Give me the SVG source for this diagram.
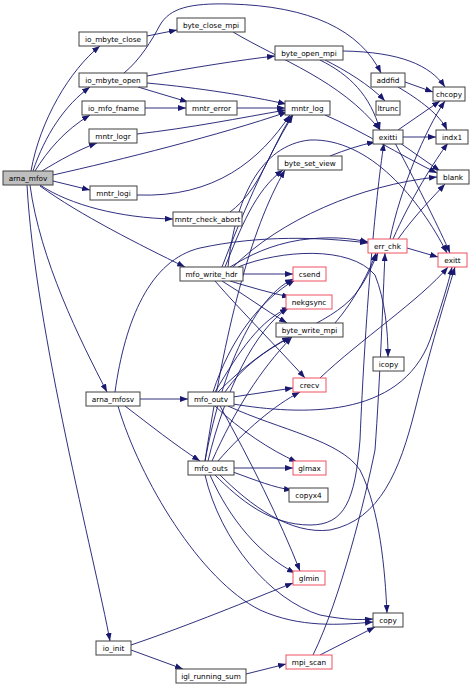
<svg xmlns="http://www.w3.org/2000/svg" width="474" height="686" viewBox="0 0 474 686">
<style>
.n rect{fill:#fff;stroke:#404040;stroke-width:1}
.n.r rect{stroke:#f05060}
.n.g rect{fill:#bfbfbf}
.n text{font-family:"DejaVu Sans",sans-serif;font-size:7.3px;fill:#000;text-anchor:middle}
#edges path{fill:none;stroke:#191970;stroke-width:0.9;marker-end:url(#a)}
</style>
<defs>
<marker id="a" viewBox="0 0 10 10" refX="10" refY="5" markerWidth="8" markerHeight="6" orient="auto" markerUnits="userSpaceOnUse" preserveAspectRatio="none">
<path d="M0,0 L10,5 L0,10 z" fill="#191970" stroke="none"/>
</marker>
</defs>
<rect width="474" height="686" fill="#fff"/>
<g id="edges">
<path d="M31,171 C40,120 70,70 100,46"/>
<path d="M33,171 C45,135 65,105 90,87"/>
<path d="M35,171 C48,150 65,130 90,115"/>
<path d="M42,171 C60,160 78,150 97,143"/>
<path d="M53,175 C120,160 220,135 287,112"/>
<path d="M53,181 L90,190"/>
<path d="M40,185 C70,205 120,218 173,219"/>
<path d="M40,186 C80,215 140,245 185,267"/>
<path d="M30,185 C40,260 80,340 107,392"/>
<path d="M27,185 C35,330 95,560 110,641"/>
<path d="M147,36 L177,30"/>
<path d="M124,73 C140,60 152,40 160,25 C170,8 190,3 230,4 C310,6 360,30 381,73"/>
<path d="M147,76 C190,68 240,60 275,56"/>
<path d="M147,83 C200,88 250,96 286,104"/>
<path d="M138,87 L188,102"/>
<path d="M145,108 L186,108"/>
<path d="M237,108 L285,108"/>
<path d="M137,134 C190,128 240,118 286,110"/>
<path d="M137,195 C215,198 260,160 290,115"/>
<path d="M230,212 C260,190 270,150 292,115"/>
<path d="M233,32 C280,60 340,80 380,130"/>
<path d="M343,51 C400,52 430,65 445,87"/>
<path d="M325,60 C345,70 370,85 385,101"/>
<path d="M320,60 C350,75 370,95 380,130"/>
<path d="M405,82 L433,92"/>
<path d="M398,87 C420,100 440,115 447,130"/>
<path d="M398,130 L440,101"/>
<path d="M403,137 L436,137"/>
<path d="M400,143 L440,171"/>
<path d="M395,143 C420,190 440,230 450,253"/>
<path d="M325,115 C360,130 400,155 437,173"/>
<path d="M330,156 C345,150 360,145 375,142"/>
<path d="M390,239 C400,190 425,130 445,101"/>
<path d="M393,239 C410,200 435,160 448,143"/>
<path d="M398,239 C415,215 435,195 445,184"/>
<path d="M407,248 L438,257"/>
<path d="M243,274 L293,274"/>
<path d="M230,281 C250,287 270,293 290,297"/>
<path d="M222,281 C245,295 265,310 287,323"/>
<path d="M215,281 C240,310 280,350 305,378"/>
<path d="M230,267 C250,255 270,245 300,240 C330,236 350,238 368,242"/>
<path d="M238,267 C280,250 350,245 375,275 C385,300 388,330 388,357"/>
<path d="M233,267 C280,220 360,185 437,177"/>
<path d="M228,267 C235,200 260,145 310,140 C370,138 420,200 447,253"/>
<path d="M225,267 C240,230 255,190 283,170"/>
<path d="M222,267 C240,220 265,160 293,115"/>
<path d="M335,323 C355,300 370,270 376,253"/>
<path d="M320,378 C360,340 420,300 448,267"/>
<path d="M115,392 C125,320 150,260 200,248 C260,235 320,237 368,243"/>
<path d="M140,399 L188,399"/>
<path d="M125,406 C150,425 175,445 200,461"/>
<path d="M118,406 C140,480 200,580 260,610 C300,628 340,625 373,622"/>
<path d="M213,392 C230,340 260,300 295,280"/>
<path d="M215,392 C240,350 260,320 290,307"/>
<path d="M218,392 C240,370 265,350 290,337"/>
<path d="M233,397 L293,388"/>
<path d="M225,392 C260,340 320,330 350,300 C365,285 372,265 378,253"/>
<path d="M233,404 C300,415 400,420 430,340 C440,310 448,285 452,267"/>
<path d="M215,406 C240,430 270,450 297,462"/>
<path d="M220,406 C250,460 280,520 300,571"/>
<path d="M228,406 C280,430 340,440 360,470 C380,510 385,570 387,613"/>
<path d="M205,461 C220,380 250,300 293,279"/>
<path d="M208,461 C225,390 255,330 288,308"/>
<path d="M212,461 C235,410 260,370 292,337"/>
<path d="M218,461 C245,430 275,405 300,392"/>
<path d="M233,468 L293,468"/>
<path d="M233,472 C255,480 275,488 292,490"/>
<path d="M210,475 C230,520 260,555 295,573"/>
<path d="M205,475 C220,540 270,600 320,615 C345,620 360,620 373,619"/>
<path d="M215,475 C240,500 270,525 310,525 C345,525 355,500 360,440 C365,320 375,200 384,143"/>
<path d="M220,475 C250,505 290,535 330,530 C380,520 400,470 415,410 C430,350 445,300 455,267"/>
<path d="M205,461 C225,330 250,230 285,170"/>
<path d="M313,655 C340,600 365,500 375,450 C380,380 383,300 385,253"/>
<path d="M320,655 L375,627"/>
<path d="M246,674 L286,664"/>
<path d="M131,650 L183,669"/>
<path d="M131,645 C190,625 250,600 293,583"/>
</g>
<g id="arna_mfov" class="n g"><rect x="3" y="171" width="50" height="14"/><text x="28" y="180.6">arna_mfov</text></g>
<g id="io_mbyte_close" class="n"><rect x="79" y="32" width="68" height="14"/><text x="113" y="41.6">io_mbyte_close</text></g>
<g id="byte_close_mpi" class="n"><rect x="177" y="18" width="68" height="14"/><text x="211" y="27.6">byte_close_mpi</text></g>
<g id="io_mbyte_open" class="n"><rect x="79" y="73" width="68" height="14"/><text x="113" y="82.6">io_mbyte_open</text></g>
<g id="io_mfo_fname" class="n"><rect x="82" y="101" width="63" height="14"/><text x="113.5" y="110.6">io_mfo_fname</text></g>
<g id="mntr_error" class="n"><rect x="186" y="101" width="51" height="14"/><text x="211.5" y="110.6">mntr_error</text></g>
<g id="mntr_logr" class="n"><rect x="89" y="129" width="48" height="14"/><text x="113" y="138.6">mntr_logr</text></g>
<g id="mntr_logi" class="n"><rect x="90" y="186" width="47" height="14"/><text x="113.5" y="195.6">mntr_logi</text></g>
<g id="mntr_check_abort" class="n"><rect x="173" y="212" width="69" height="14"/><text x="207.5" y="221.6">mntr_check_abort</text></g>
<g id="byte_open_mpi" class="n"><rect x="275" y="46" width="68" height="14"/><text x="309" y="55.6">byte_open_mpi</text></g>
<g id="mntr_log" class="n"><rect x="285" y="101" width="45" height="14"/><text x="307.5" y="110.6">mntr_log</text></g>
<g id="addfid" class="n"><rect x="371" y="73" width="34" height="14"/><text x="388" y="82.6">addfid</text></g>
<g id="chcopy" class="n"><rect x="433" y="87" width="32" height="14"/><text x="449" y="96.6">chcopy</text></g>
<g id="ltrunc" class="n"><rect x="376" y="101" width="24" height="14"/><text x="388" y="110.6">ltrunc</text></g>
<g id="exitti" class="n"><rect x="373" y="130" width="30" height="14"/><text x="388" y="139.6">exitti</text></g>
<g id="indx1" class="n"><rect x="436" y="130" width="32" height="14"/><text x="452" y="139.6">indx1</text></g>
<g id="byte_set_view" class="n"><rect x="278" y="156" width="64" height="14"/><text x="310" y="165.6">byte_set_view</text></g>
<g id="blank" class="n"><rect x="437" y="170" width="32" height="14"/><text x="453" y="179.6">blank</text></g>
<g id="err_chk" class="n r"><rect x="368" y="239" width="39" height="14"/><text x="387.5" y="248.6">err_chk</text></g>
<g id="exitt" class="n r"><rect x="438" y="253" width="29" height="14"/><text x="452.5" y="262.6">exitt</text></g>
<g id="mfo_write_hdr" class="n"><rect x="180" y="267" width="63" height="14"/><text x="211.5" y="276.6">mfo_write_hdr</text></g>
<g id="csend" class="n r"><rect x="293" y="267" width="33" height="14"/><text x="309.5" y="276.6">csend</text></g>
<g id="nekgsync" class="n r"><rect x="286" y="295" width="46" height="14"/><text x="309" y="304.6">nekgsync</text></g>
<g id="byte_write_mpi" class="n"><rect x="276" y="323" width="67" height="14"/><text x="309.5" y="332.6">byte_write_mpi</text></g>
<g id="icopy" class="n"><rect x="373" y="357" width="31" height="14"/><text x="388.5" y="366.6">icopy</text></g>
<g id="crecv" class="n r"><rect x="293" y="378" width="33" height="14"/><text x="309.5" y="387.6">crecv</text></g>
<g id="arna_mfosv" class="n"><rect x="86" y="392" width="54" height="14"/><text x="113" y="401.6">arna_mfosv</text></g>
<g id="mfo_outv" class="n"><rect x="188" y="392" width="46" height="14"/><text x="211" y="401.6">mfo_outv</text></g>
<g id="mfo_outs" class="n"><rect x="188" y="461" width="46" height="14"/><text x="211" y="470.6">mfo_outs</text></g>
<g id="glmax" class="n r"><rect x="293" y="461" width="33" height="14"/><text x="309.5" y="470.6">glmax</text></g>
<g id="copyx4" class="n"><rect x="289" y="488" width="39" height="14"/><text x="308.5" y="497.6">copyx4</text></g>
<g id="glmin" class="n r"><rect x="293" y="571" width="32" height="14"/><text x="309" y="580.6">glmin</text></g>
<g id="copy" class="n"><rect x="373" y="613" width="30" height="14"/><text x="388" y="622.6">copy</text></g>
<g id="io_init" class="n"><rect x="96" y="641" width="35" height="14"/><text x="113.5" y="650.6">io_init</text></g>
<g id="mpi_scan" class="n r"><rect x="286" y="655" width="46" height="14"/><text x="309" y="664.6">mpi_scan</text></g>
<g id="igl_running_sum" class="n"><rect x="176" y="669" width="70" height="14"/><text x="211" y="678.6">igl_running_sum</text></g>
</svg>
